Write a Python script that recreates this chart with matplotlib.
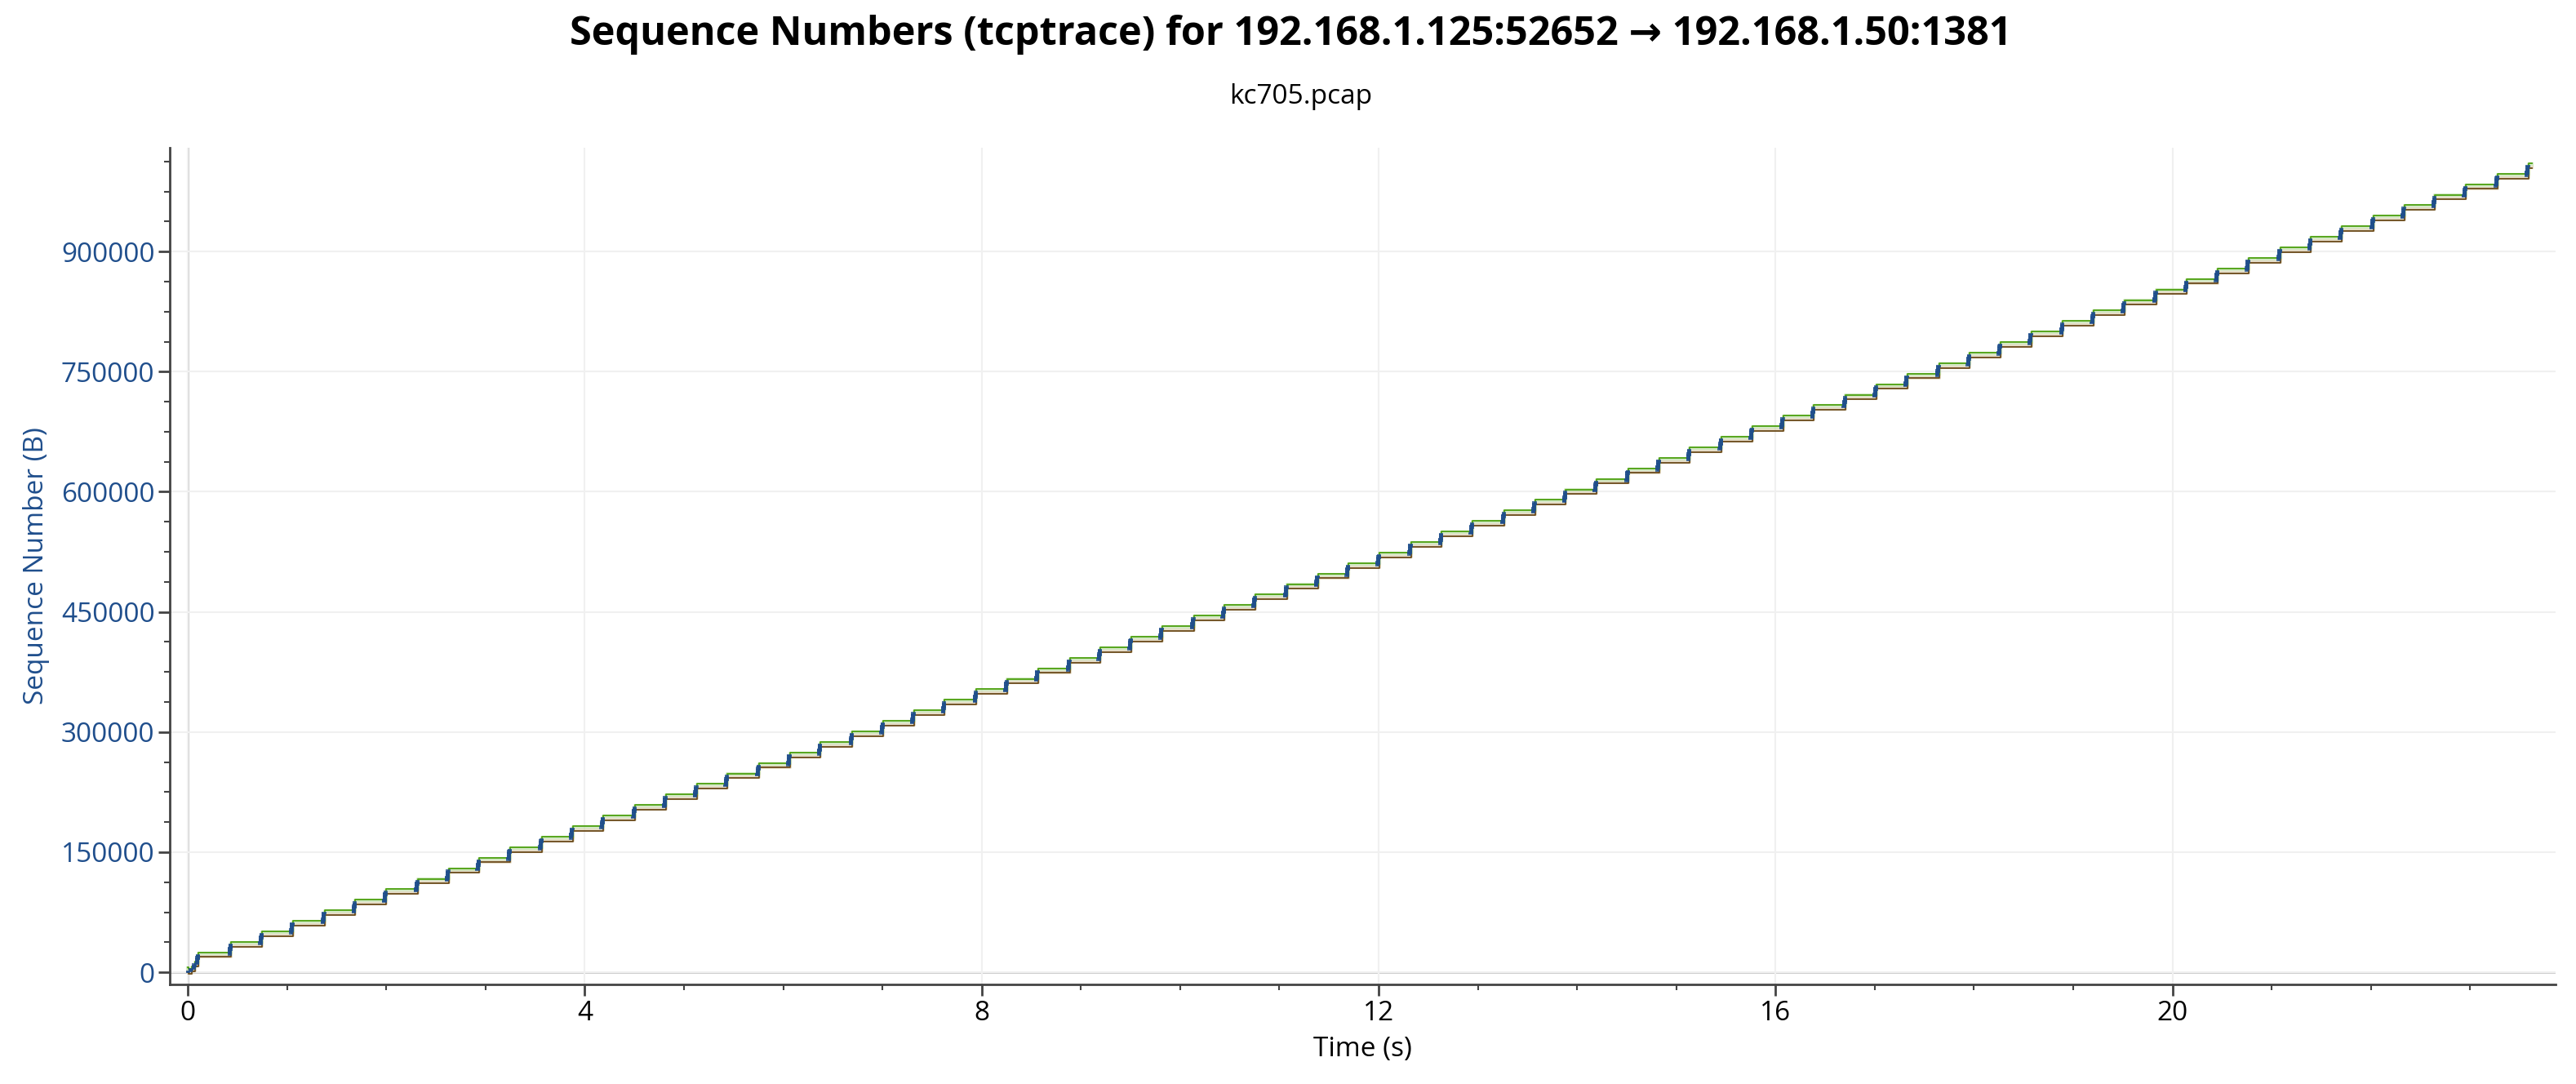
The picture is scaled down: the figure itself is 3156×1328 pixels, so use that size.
import numpy as np
import matplotlib
matplotlib.use('Agg')
import matplotlib.pyplot as plt

plt.rcParams['font.family'] = ['Open Sans', 'DejaVu Sans']

# --- data ---
# burst start times (s) and number of 1460-byte segments per burst
burst_times = [0.00, 0.03, 0.06, 0.09,
               0.42, 0.73, 1.04, 1.36, 1.67, 1.98, 2.30, 2.61, 2.92, 3.23,
               3.55, 3.86, 4.17, 4.49, 4.80, 5.11, 5.42, 5.74, 6.05, 6.36,
               6.68, 6.99, 7.30, 7.61, 7.93, 8.24, 8.55, 8.87, 9.18, 9.49,
               9.80, 10.12, 10.43, 10.74, 11.06, 11.37, 11.68, 11.99, 12.31, 12.62,
               12.93, 13.25, 13.56, 13.87, 14.18, 14.50, 14.81, 15.12, 15.44, 15.75,
               16.06, 16.37, 16.69, 17.00, 17.31, 17.63, 17.94, 18.25, 18.56, 18.88,
               19.19, 19.50, 19.82, 20.13, 20.44, 20.75, 21.07, 21.38, 21.69, 22.01,
               22.32, 22.63, 22.94, 23.26, 23.57]
burst_segs = [1, 2, 4, 8] + [9] * 75
seg_size = 1460
window = 5840

seg_t, seg_lo, seg_hi = [], [], []
ack_t, ack_v = [0.0], [0]
seq = 0
for t, n in zip(burst_times, burst_segs):
    for i in range(n):
        seg_t.append(t + i * 0.0015)
        seg_lo.append(seq)
        seg_hi.append(seq + seg_size)
        seq += seg_size
    ack_t.append(t + n * 0.0015 + 0.004)
    ack_v.append(seq - 2 * seg_size)
ack_t.append(23.62)
ack_v.append(ack_v[-1])
ack_t = np.array(ack_t)
ack_v = np.array(ack_v)
win_v = ack_v + window

fig = plt.figure(figsize=(31.56, 13.28), dpi=100)
ax = fig.add_axes([0.066, 0.092, 0.926, 0.772])

ax.axhline(0, color='#c8c8c8', lw=2, zorder=0)
ax.axvline(0, color='#c8c8c8', lw=2, zorder=0)

ax.step(ack_t, ack_v + 900, where='post', color='#d8c8a8', lw=3, alpha=0.6)
ax.step(ack_t, win_v - 900, where='post', color='#b8dca0', lw=3, alpha=0.6)
ax.step(ack_t, ack_v, where='post', color='#6a4a1a', lw=1.3)
ax.step(ack_t, win_v, where='post', color='#4ca010', lw=1.3)

seg_t = np.array(seg_t)
ax.vlines(seg_t, seg_lo, seg_hi, color='#1f4e8c', lw=1.2)
ax.hlines(seg_lo, seg_t - 0.022, seg_t + 0.022, color='#1f4e8c', lw=1.4, alpha=0.8)
ax.hlines(seg_hi, seg_t - 0.022, seg_t + 0.022, color='#1f4e8c', lw=1.4, alpha=0.8)

ax.set_xlim(-0.18, 23.86)
ax.set_ylim(-15000, 1030000)
ax.set_xticks([0, 4, 8, 12, 16, 20])
ax.set_xticks(np.arange(0, 24, 1), minor=True)
ax.set_yticks(np.arange(0, 950000, 150000))
ax.set_yticks(np.arange(0, 1030000, 37500), minor=True)
ax.grid(True, which='major', color='#f0f0f0', lw=1.5)
for s in ['top', 'right']:
    ax.spines[s].set_visible(False)
for s in ['left', 'bottom']:
    ax.spines[s].set_color('#444444')
    ax.spines[s].set_linewidth(2)
ax.tick_params(axis='both', which='major', labelsize=24, length=10, width=2, color='#444444')
ax.tick_params(axis='both', which='minor', length=5, width=1.5, color='#444444')
ax.tick_params(axis='y', labelcolor='#1f4e8c')
ax.set_xlabel('Time (s)', fontsize=24, labelpad=8)
ax.set_ylabel('Sequence Number (B)', fontsize=24, color='#1f4e8c', labelpad=10)

fig.text(0.501, 0.968, 'Sequence Numbers (tcptrace) for 192.168.1.125:52652 \u2192 192.168.1.50:1381',
         ha='center', va='center', fontsize=35, fontweight='bold')
fig.text(0.505, 0.911, 'kc705.pcap', ha='center', va='center', fontsize=24)

fig.savefig('out.png', dpi=100)
